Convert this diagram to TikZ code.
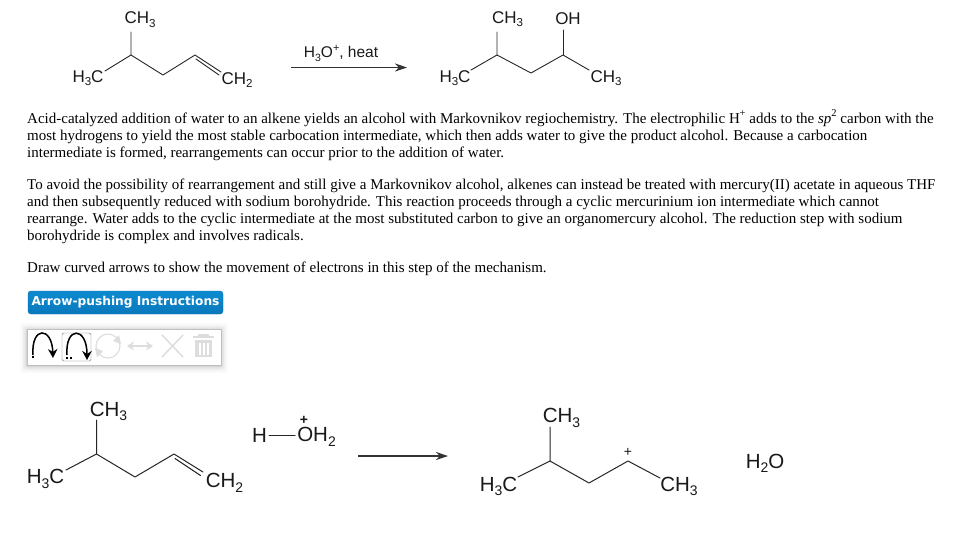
\documentclass[tikz,border=0pt]{standalone}
\usepackage{fontspec}
\setmainfont{Liberation Serif}
\newfontfamily\chemfont{Liberation Sans}
\newfontfamily\btnfont{DejaVu Sans}
\usetikzlibrary{arrows.meta,calc}
\newcommand{\sbs}[1]{\raisebox{-.22em}{\scalebox{.68}{#1}}}
\newcommand{\sps}[1]{\raisebox{.42em}{\scalebox{.7}{#1}}}
\definecolor{iconoff}{HTML}{DDDDDD}
\definecolor{btntop}{HTML}{0C8BD0}
\definecolor{btnbot}{HTML}{0A78BC}
\definecolor{btnedge}{HTML}{0A6CA8}
\tikzset{
  x=1pt,y=-1pt,
  bond/.style={draw=black!85,line width=1pt,line cap=round,line join=round},
  bondtop/.style={draw=black!85,line width=.9pt,line cap=round,line join=round},
  lab/.style={inner sep=0pt,font=\chemfont\fontsize{20.5}{20}\selectfont,text=black!90},
  labtop/.style={inner sep=0pt,font=\chemfont\fontsize{17}{17}\selectfont,text=black!90},
  para/.style={inner sep=0pt,anchor=base west,font=\fontsize{15}{16}\selectfont,text=black},
  rxn/.style={draw=black!80,line width=1.1pt,-{Stealth[length=12pt,width=8pt]}},
  curved/.style={draw=black,line width=1.5pt,-{Stealth[length=9pt,width=9.5pt]}},
  off/.style={draw=iconoff,line width=1.5pt},
}
\begin{document}
\begin{tikzpicture}
\useasboundingbox[fill=white] (0,0) rectangle (960,547);

% ---- top reactant
\node[labtop] (t1me) at (140,19.5) {CH\sbs{3}};
\node[labtop] (t1l) at (88,78) {H\sbs{3}C};
\node[labtop] (t1r) at (237,80) {CH\sbs{2}};
\coordinate (t1a) at (131,32);
\coordinate (t1b) at (131,55);
\coordinate (t1c) at (163,75);
\coordinate (t1d) at (195,55);
\coordinate (t1e) at (221,72);
\coordinate (t1f) at (105,71);
\draw[bondtop] (t1a) -- (t1b) -- (t1c) -- (t1d) -- (t1e);
\draw[bondtop] (t1f) -- (t1b);
\draw[bondtop] ($(t1d)+(1,4)$) -- ($(t1e)+(-2,3)$);

% ---- top arrow
\node[labtop,font=\chemfont\fontsize{15.5}{15}\selectfont] (t2) at (341,53) {H\sbs{3}O\sps{+}, heat};
\coordinate (t2a) at (291,67.5);
\coordinate (t2b) at (407,67.5);
\draw[rxn,line width=1pt] (t2a) -- (t2b);

% ---- top product
\node[labtop] (t3me) at (507.5,19) {CH\sbs{3}};
\node[labtop] (t3oh) at (568,19) {OH};
\node[labtop] (t3l) at (455,78) {H\sbs{3}C};
\node[labtop] (t3r) at (606,78) {CH\sbs{3}};
\coordinate (t3a) at (497,32);
\coordinate (t3b) at (497,55);
\coordinate (t3c) at (531,73);
\coordinate (t3d) at (563,55);
\coordinate (t3e) at (589,70);
\coordinate (t3f) at (471,70);
\coordinate (t3g) at (563,30);
\draw[bondtop] (t3a) -- (t3b) -- (t3c) -- (t3d) -- (t3e);
\draw[bondtop] (t3f) -- (t3b);
\draw[bondtop] (t3g) -- (t3d);

% ---- paragraphs
\node[para] (p1) at (27,123) {Acid-catalyzed addition of water to an alkene yields an alcohol with Markovnikov regiochemistry. The electrophilic H\sps{+} adds to the \textit{sp}\sps{2} carbon with the};
\node[para] (p2) at (27,140) {most hydrogens to yield the most stable carbocation intermediate, which then adds water to give the product alcohol. Because a carbocation};
\node[para] (p3) at (27,157) {intermediate is formed, rearrangements can occur prior to the addition of water.};
\node[para] (p4) at (27,189) {To avoid the possibility of rearrangement and still give a Markovnikov alcohol, alkenes can instead be treated with mercury(II) acetate in aqueous THF};
\node[para] (p5) at (27,206) {and then subsequently reduced with sodium borohydride. This reaction proceeds through a cyclic mercurinium ion intermediate which cannot};
\node[para] (p6) at (27,223) {rearrange. Water adds to the cyclic intermediate at the most substituted carbon to give an organomercury alcohol. The reduction step with sodium};
\node[para] (p7) at (27,240) {borohydride is complex and involves radicals.};
\node[para] (p8) at (27,272) {Draw curved arrows to show the movement of electrons in this step of the mechanism.};

% ---- button
\node[draw=btnedge,inner sep=0pt,rounded corners=3pt,minimum width=195pt,minimum height=23pt,
      top color=btntop,bottom color=btnbot,
      font=\btnfont\bfseries\fontsize{12.2}{13}\selectfont,text=white] (btn) at (125.5,302.5) {\raisebox{-.8pt}{Arrow-pushing Instructions}};

% ---- toolbar
\foreach \w/\o in {7/.015,5.5/.02,4/.03,2.5/.04,1.2/.06}
  \fill[black,opacity=\o,rounded corners=3pt] (27-\w,329-\w+1) rectangle (221+\w,365+\w+1);
\node[draw=black!25,fill=white,inner sep=0pt,minimum width=194pt,minimum height=36pt] (bar) at (124,347) {};

\node[draw=black!55,fill=white,inner sep=0pt,rounded corners=1.5pt,minimum width=29pt,minimum height=28pt] (sel) at (76.5,347) {};
% first curved arrow
\coordinate (c1a) at (33,355);
\coordinate (c1b) at (53,358);
\draw[curved] (c1a) .. controls (31,326) and (52,326) .. (c1b);
\fill (32,355.5) rectangle (34,357.5);
% second curved arrow
\coordinate (c2a) at (67,355);
\coordinate (c2b) at (87,360);
\draw[curved] (c2a) .. controls (65,326) and (87,326) .. (c2b);
\fill (66,357) rectangle (67.8,359);
\fill (70,357) rectangle (71.8,359);
% ring
\draw[off,line width=1.1pt] (108,346) circle (12);
\fill[iconoff] (119,335) -- (121,344) -- (113,341) -- cycle;
\fill[iconoff] (97,357) -- (95,348) -- (103,351) -- cycle;
% double arrow
\coordinate (d1) at (127,346);
\coordinate (d2) at (153,346);
\draw[off,line width=1.8pt,{Stealth[length=7pt,width=9pt]}-{Stealth[length=7pt,width=9pt]}] (d1) -- (d2);
% cross
\coordinate (x1) at (162,335);
\coordinate (x2) at (183,357);
\coordinate (x3) at (183,335);
\coordinate (x4) at (162,357);
\draw[off] (x1) -- (x2);
\draw[off] (x3) -- (x4);
% bin
\fill[iconoff] (193,336) rectangle (214,338);
\fill[iconoff] (198,334) rectangle (209,336);
\fill[iconoff] (195,340) rectangle (212,357);
\fill[white] (198.5,343) rectangle (200.5,355);
\fill[white] (202.8,343) rectangle (204.8,355);
\fill[white] (207,343) rectangle (209,355);

% ---- bottom reactant
\node[lab] (b1me) at (108.5,411.5) {CH\sbs{3}};
\node[lab] (b1l) at (45.5,479) {H\sbs{3}C};
\node[lab] (b1r) at (224.5,483) {CH\sbs{2}};
\coordinate (b1a) at (96.5,420);
\coordinate (b1b) at (96.5,454);
\coordinate (b1c) at (135,477);
\coordinate (b1d) at (174,454);
\coordinate (b1e) at (203,472);
\coordinate (b1f) at (66,470);
\draw[bond] (b1a) -- (b1b) -- (b1c) -- (b1d) -- (b1e);
\draw[bond] (b1f) -- (b1b);
\draw[bond] ($(b1d)+(1,4.5)$) -- ($(b1e)+(-2.5,3.5)$);

% ---- hydronium
\node[lab] (b2h) at (259.5,435.5) {H};
\node[lab] (b2o) at (316.5,437) {OH\sbs{2}};
\node[labtop,font=\chemfont\bfseries\fontsize{14}{14}\selectfont] (b2p) at (304,420) {+};
\draw[bond] (b2h.east) ++(2,-.5) coordinate (b2a) -- ($(b2o.west)+(-2,-2)$) coordinate (b2c);

% ---- bottom arrow
\coordinate (b3a) at (358,456);
\coordinate (b3b) at (448,456);
\draw[rxn] (b3a) -- (b3b);

% ---- bottom product
\node[lab] (b4me) at (561.5,418) {CH\sbs{3}};
\node[lab] (b4l) at (498.5,486.5) {H\sbs{3}C};
\node[lab] (b4r) at (679,486.5) {CH\sbs{3}};
\node[labtop,font=\chemfont\fontsize{14}{14}\selectfont] (b4p) at (628,452) {+};
\node[lab] (b4w) at (765,463.5) {H\sbs{2}O};
\coordinate (b4a) at (550,427);
\coordinate (b4b) at (550,461);
\coordinate (b4c) at (589,483);
\coordinate (b4d) at (628,461);
\coordinate (b4e) at (660,478);
\coordinate (b4f) at (518,477);
\draw[bond] (b4a) -- (b4b) -- (b4c) -- (b4d) -- (b4e);
\draw[bond] (b4f) -- (b4b);
\end{tikzpicture}
\end{document}
